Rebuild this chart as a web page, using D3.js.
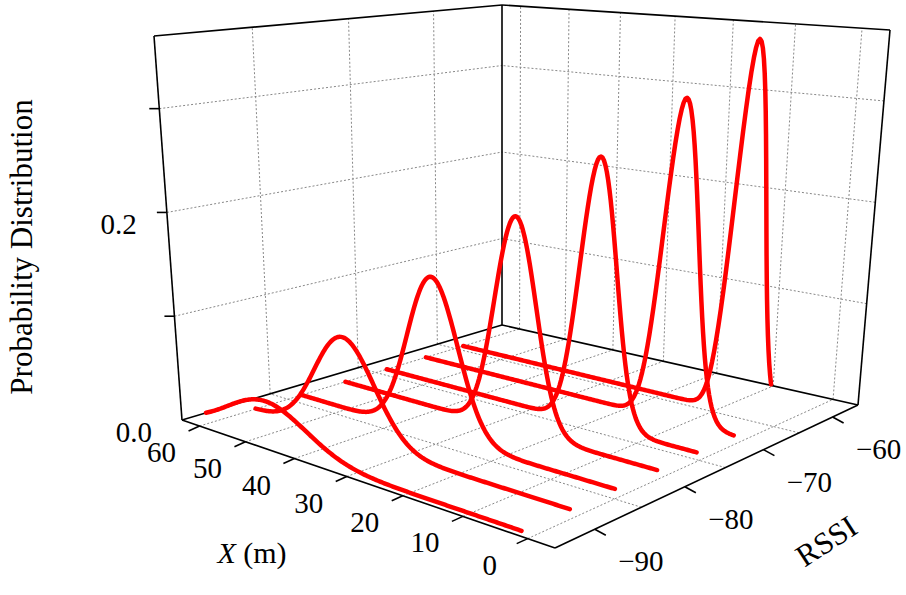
<!DOCTYPE html>
<html><head><meta charset="utf-8">
<script src="https://cdn.jsdelivr.net/npm/d3@7"></script>
<style>body{margin:0;background:#fff}text{font-family:"Liberation Serif","DejaVu Serif",serif}</style>
</head><body><svg id="c" width="906" height="595"></svg>
<script>
// ---- data ----
const curveRSSI = [-93.3, -88.4, -83.5, -78.6, -73.7, -68.8, -63.9];
const peakX     = [47, 41, 33, 26, 19, 12, 7];
const peakP     = [0.040, 0.094, 0.148, 0.202, 0.256, 0.310, 0.364];
const sigmaX    = [8, 5.8, 4.6, 3.6, 3.0, 2.7, 2.3];
const xTicks = [0, 10, 20, 30, 40, 50, 60];
const rssiTicks = [-90, -80, -70, -60];
const zTicks = [0.1, 0.2, 0.3];
const zLabels = [0.0, 0.2];
const rssiGrid = [-85, -75, -65];

// ---- scales ----
const sx = d3.scaleLinear().domain([-4, 64]).range([0, 1]);
const sr = d3.scaleLinear().domain([-94, -56]).range([0, 1]);
const sz = d3.scaleLinear().domain([0, 0.37]).range([0, 1]);

function homog(q){
  const [x0,y0]=q[0],[x1,y1]=q[1],[x2,y2]=q[2],[x3,y3]=q[3];
  const dx1=x1-x2,dx2=x3-x2,dx3=x0-x1+x2-x3,dy1=y1-y2,dy2=y3-y2,dy3=y0-y1+y2-y3;
  const den=dx1*dy2-dx2*dy1;
  const g=(dx3*dy2-dx2*dy3)/den,h=(dx1*dy3-dx3*dy1)/den;
  const a=x1-x0+g*x1,b=x3-x0+h*x3,c=x0,d=y1-y0+g*y1,e=y3-y0+h*y3,f=y0;
  return (u,v)=>{const w=g*u+h*v+1;return [(a*u+b*v+c)/w,(d*u+e*v+f)/w];};
}
const floorH = homog([[555,548],[182,420],[502,325],[858,405]]);
const topH   = homog([[566,80],[154,36],[502,5],[890,30]]);
function P(X, R, Z){
  const u=sx(X), v=sr(R), t=sz(Z);
  const f=floorH(u,v), tp=topH(u,v);
  return [f[0]+(tp[0]-f[0])*t, f[1]+(tp[1]-f[1])*t];
}
const svg = d3.select("#c");
const line = d3.line();
const X0=sx.domain()[0], X1=sx.domain()[1], R0=sr.domain()[0], R1=sr.domain()[1], Zm=sz.domain()[1];
const grid = svg.append("g").attr("stroke","#888").attr("stroke-width",1).attr("stroke-dasharray","2,2").attr("fill","none");
rssiGrid.forEach(r=>grid.append("path").attr("d",line([P(X1,r,0),P(X1,r,Zm)])));
zTicks.forEach(z=>grid.append("path").attr("d",line([P(X1,R0,z),P(X1,R1,z)])));
xTicks.forEach(x=>grid.append("path").attr("d",line([P(x,R1,0),P(x,R1,Zm)])));
zTicks.forEach(z=>grid.append("path").attr("d",line([P(X0,R1,z),P(X1,R1,z)])));
xTicks.forEach(x=>grid.append("path").attr("d",line([P(x,R0,0),P(x,R1,0)])));
rssiGrid.forEach(r=>grid.append("path").attr("d",line([P(X0,r,0),P(X1,r,0)])));

const box = svg.append("g").attr("stroke","#000").attr("stroke-width",1.6).attr("fill","none");
[[P(X1,R0,0),P(X1,R0,Zm)],[P(X1,R1,0),P(X1,R1,Zm)],[P(X0,R1,0),P(X0,R1,Zm)],
 [P(X1,R0,Zm),P(X1,R1,Zm)],[P(X1,R1,Zm),P(X0,R1,Zm)],
 [P(X1,R0,0),P(X1,R1,0)],[P(X1,R1,0),P(X0,R1,0)],
 [P(X1,R0,0),P(X0,R0,0)],[P(X0,R0,0),P(X0,R1,0)]].forEach(s=>box.append("path").attr("d",line(s)));

function tick(p, dx, dy){box.append("path").attr("d",line([p,[p[0]+dx,p[1]+dy]]));}
xTicks.forEach(x=>tick(P(x,R0,0),-11,5));
rssiTicks.forEach(r=>tick(P(X0,r,0),11,6));
zTicks.forEach(z=>tick(P(X1,R0,z),-10,0));

const lab = svg.append("g").attr("font-size",29).attr("fill","#000");
xTicks.forEach(x=>{const p=P(x,R0,0);lab.append("text").attr("x",p[0]-38).attr("y",p[1]+36).attr("text-anchor","middle").text(x);});
rssiTicks.forEach(r=>{const p=P(X0,r,0);lab.append("text").attr("x",p[0]+46).attr("y",p[1]+42).attr("text-anchor","middle").text("\u2212"+Math.abs(r));});
zLabels.forEach(z=>{const p=P(X1,R0,z);lab.append("text").attr("x",p[0]-30).attr("y",p[1]+22).attr("text-anchor","end").text(z.toFixed(1));});
lab.append("text").attr("transform","translate(32,247) rotate(-90)").attr("text-anchor","middle").attr("font-size",31).text("Probability Distribution");
const xl = lab.append("text").attr("x",252).attr("y",563).attr("text-anchor","middle").attr("font-size",30);
xl.append("tspan").attr("font-style","italic").text("X");
xl.append("tspan").text(" (m)");
lab.append("text").attr("transform","translate(832,550) rotate(-33)").attr("text-anchor","middle").attr("font-size",31).text("RSSI");

const curves = svg.append("g").attr("stroke","#ff0000").attr("stroke-width",4.5).attr("fill","none").attr("stroke-linecap","round").attr("stroke-linejoin","round");
const xs = d3.range(60, 1.999, -0.25);
for (let i = curveRSSI.length-1; i >= 0; i--) {
  const pts = xs.map(x => P(x, curveRSSI[i], peakP[i]*Math.exp(-((x-peakX[i])**2)/(2*sigmaX[i]**2))));
  curves.append("path").attr("d", line(pts));
}
</script></body></html>
